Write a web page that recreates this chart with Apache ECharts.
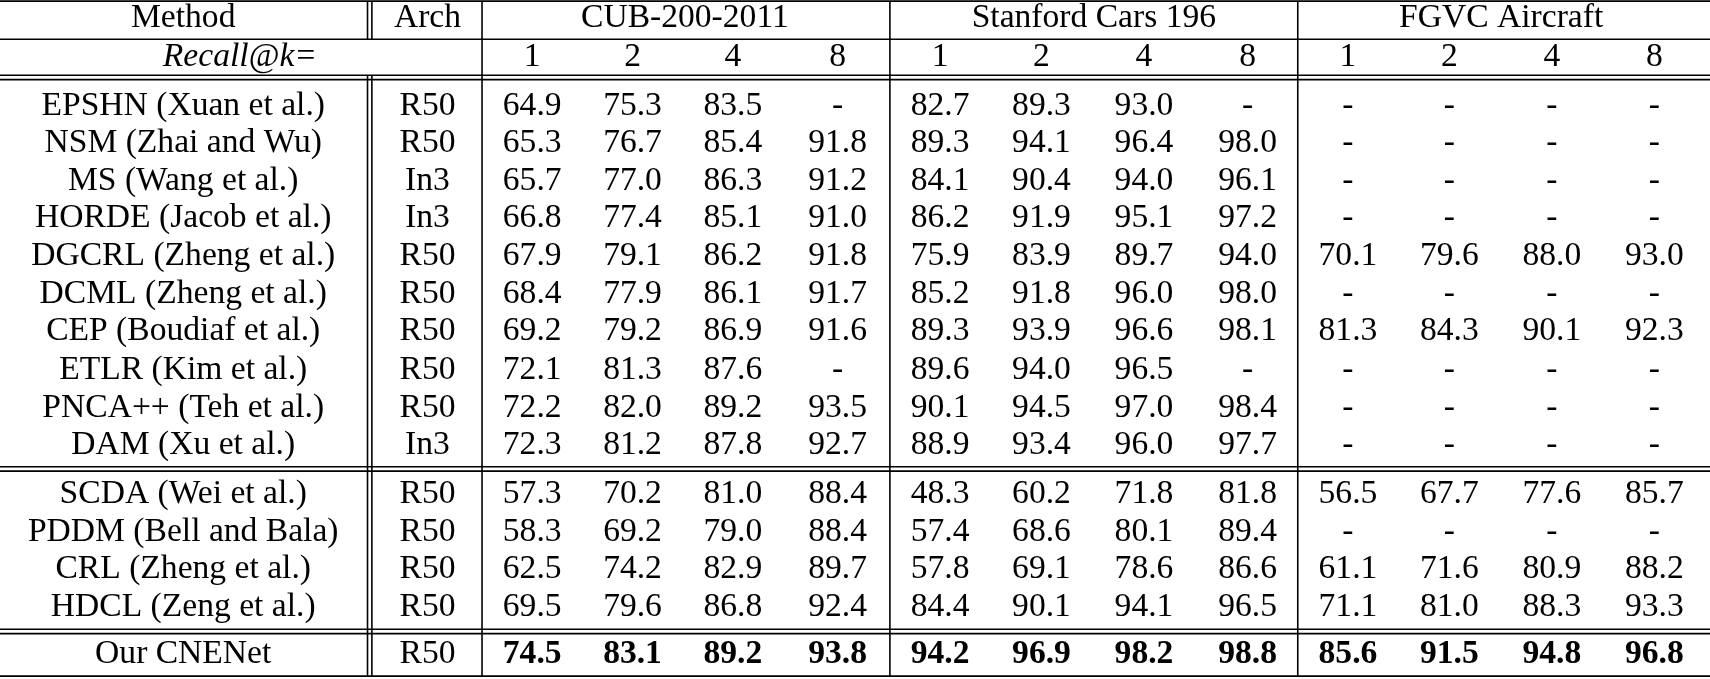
<!DOCTYPE html>
<html>
<head>
<meta charset="utf-8">
<script src="https://cdn.jsdelivr.net/npm/echarts@6/dist/echarts.min.js"></script>
<style>body{margin:0;background:#fff}</style>
</head>
<body>
<div id="main" style="width:1710px;height:679px;"></div>
<script>
// table content
var datasets = ['CUB-200-2011', 'Stanford Cars 196', 'FGVC Aircraft'];
var ks = ['1', '2', '4', '8'];
var methods = ['EPSHN (Xuan et al.)', 'NSM (Zhai and Wu)', 'MS (Wang et al.)', 'HORDE (Jacob et al.)',
  'DGCRL (Zheng et al.)', 'DCML (Zheng et al.)', 'CEP (Boudiaf et al.)', 'ETLR (Kim et al.)',
  'PNCA++ (Teh et al.)', 'DAM (Xu et al.)',
  'SCDA (Wei et al.)', 'PDDM (Bell and Bala)', 'CRL (Zheng et al.)', 'HDCL (Zeng et al.)',
  'Our CNENet'];
var archs = ['R50', 'R50', 'In3', 'In3', 'R50', 'R50', 'R50', 'R50', 'R50', 'In3',
  'R50', 'R50', 'R50', 'R50', 'R50'];
var cub = [
  ['64.9', '75.3', '83.5', '-'], ['65.3', '76.7', '85.4', '91.8'], ['65.7', '77.0', '86.3', '91.2'],
  ['66.8', '77.4', '85.1', '91.0'], ['67.9', '79.1', '86.2', '91.8'], ['68.4', '77.9', '86.1', '91.7'],
  ['69.2', '79.2', '86.9', '91.6'], ['72.1', '81.3', '87.6', '-'], ['72.2', '82.0', '89.2', '93.5'],
  ['72.3', '81.2', '87.8', '92.7'],
  ['57.3', '70.2', '81.0', '88.4'], ['58.3', '69.2', '79.0', '88.4'], ['62.5', '74.2', '82.9', '89.7'],
  ['69.5', '79.6', '86.8', '92.4'],
  ['74.5', '83.1', '89.2', '93.8']];
var cars = [
  ['82.7', '89.3', '93.0', '-'], ['89.3', '94.1', '96.4', '98.0'], ['84.1', '90.4', '94.0', '96.1'],
  ['86.2', '91.9', '95.1', '97.2'], ['75.9', '83.9', '89.7', '94.0'], ['85.2', '91.8', '96.0', '98.0'],
  ['89.3', '93.9', '96.6', '98.1'], ['89.6', '94.0', '96.5', '-'], ['90.1', '94.5', '97.0', '98.4'],
  ['88.9', '93.4', '96.0', '97.7'],
  ['48.3', '60.2', '71.8', '81.8'], ['57.4', '68.6', '80.1', '89.4'], ['57.8', '69.1', '78.6', '86.6'],
  ['84.4', '90.1', '94.1', '96.5'],
  ['94.2', '96.9', '98.2', '98.8']];
var aircraft = [
  ['-', '-', '-', '-'], ['-', '-', '-', '-'], ['-', '-', '-', '-'], ['-', '-', '-', '-'],
  ['70.1', '79.6', '88.0', '93.0'], ['-', '-', '-', '-'], ['81.3', '84.3', '90.1', '92.3'],
  ['-', '-', '-', '-'], ['-', '-', '-', '-'], ['-', '-', '-', '-'],
  ['56.5', '67.7', '77.6', '85.7'], ['-', '-', '-', '-'], ['61.1', '71.6', '80.9', '88.2'],
  ['71.1', '81.0', '88.3', '93.3'],
  ['85.6', '91.5', '94.8', '96.8']];

// layout (measured on a 1568 wide copy, scaled up)
var S = 1710 / 1568;
var colX = [488, 580, 672, 768, 862, 955, 1049, 1144, 1236, 1329, 1423, 1517];
var rowY = [97, 131, 166, 200, 235, 270, 304, 339, 374, 408, 453, 488, 522, 557, 600];
var FONT = '"Liberation Serif", "DejaVu Serif", serif';
var g = [];

function txt(x, y, s, opt) {
  opt = opt || {};
  g.push({
    type: 'text', x: x * S, y: y * S,
    style: {
      text: s, fill: '#000', align: 'center', verticalAlign: 'middle',
      font: (opt.italic ? 'italic ' : '') + (opt.bold ? 'bold ' : '') + (30.8 * S).toFixed(1) + 'px ' + FONT
    }
  });
}
function hline(y, x1, x2) {
  g.push({ type: 'line', shape: { x1: (x1 || 0) * S, y1: y * S, x2: (x2 || 1568) * S, y2: y * S }, style: { stroke: '#000', lineWidth: 1.6 } });
}
function vline(x, y1, y2) {
  g.push({ type: 'line', shape: { x1: x * S, y1: y1 * S, x2: x * S, y2: y2 * S }, style: { stroke: '#000', lineWidth: 1.6 } });
}

// header
txt(168, 17, 'Method');
txt(392, 17, 'Arch');
datasets.forEach(function (d, i) { txt((colX[i * 4] + colX[i * 4 + 3]) / 2, 17, d); });
txt(220, 52, 'Recall@k=', { italic: true });
for (var i = 0; i < 12; i++) txt(colX[i], 52, ks[i % 4]);

// body
methods.forEach(function (m, r) {
  var b = r === methods.length - 1;
  txt(168, rowY[r], m);
  txt(392, rowY[r], archs[r]);
  [cub, cars, aircraft].forEach(function (ds, d) {
    ds[r].forEach(function (v, k) { txt(colX[d * 4 + k], rowY[r], v, { bold: b && v !== '-' }); });
  });
});

// rules
hline(1); hline(36); hline(69); hline(73);
hline(428); hline(432); hline(577); hline(581); hline(620);
vline(337, 1, 36); vline(341, 1, 36);
vline(337, 69, 620); vline(341, 69, 620);
[442, 816, 1190].forEach(function (x) { vline(x, 1, 620); });

var myChart = echarts.init(document.getElementById('main'));
myChart.setOption({ backgroundColor: '#fff', graphic: g });
</script>
</body>
</html>
